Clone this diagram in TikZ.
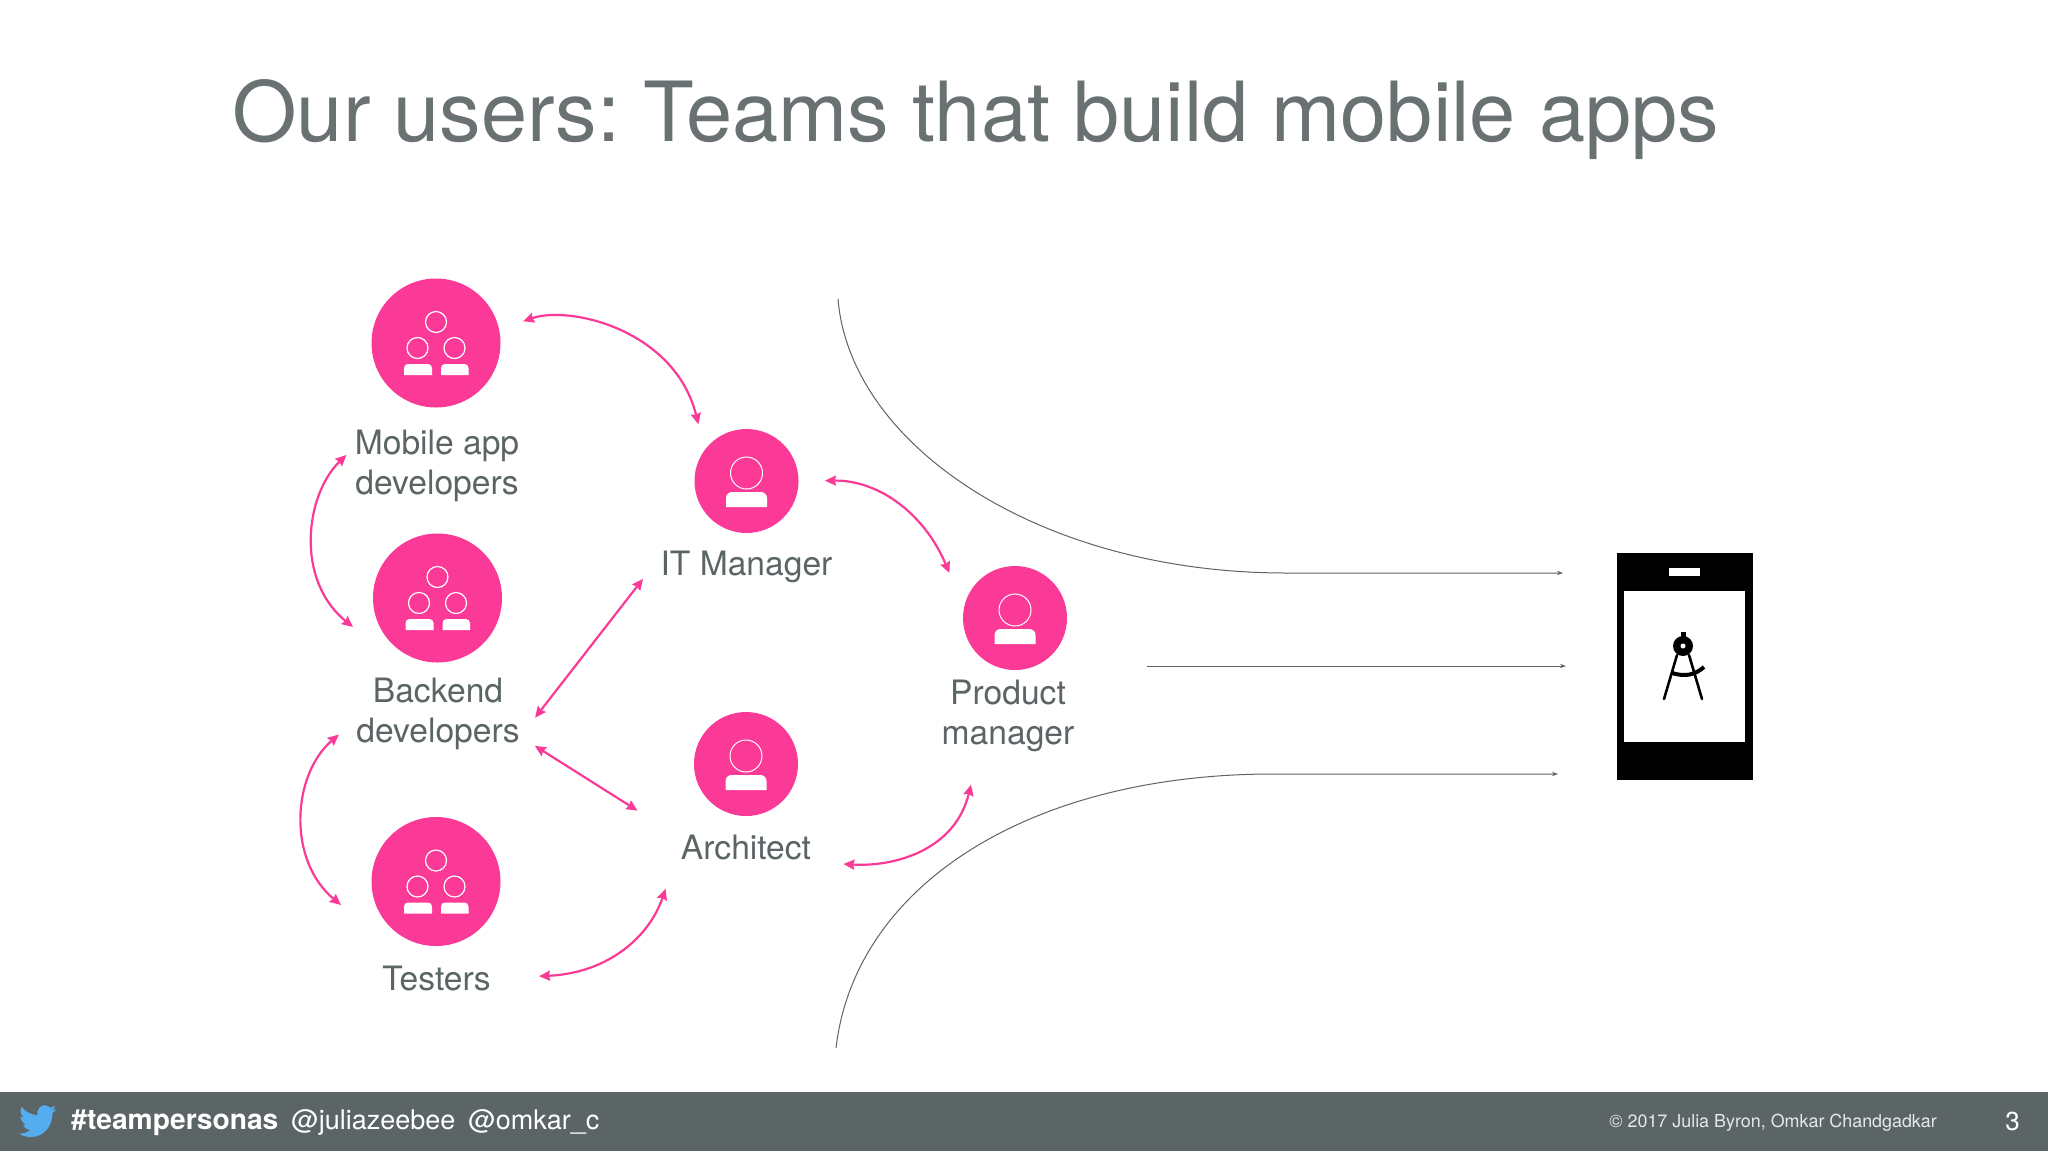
\documentclass[tikz,border=0pt]{standalone}
\usepackage{fontspec}
\setmainfont{TeX Gyre Heros}
\frenchspacing
\usetikzlibrary{arrows.meta}
\definecolor{rolepink}{HTML}{FB3A97}
\definecolor{slategrey}{HTML}{5C6566}
\definecolor{birdblue}{HTML}{55ACEE}
\tikzset{
    rolecircle/.style={circle, fill=rolepink, minimum size=64.5pt, inner sep=0pt},
    smallcircle/.style={circle, fill=rolepink, minimum size=52pt, inner sep=0pt},
    rolelabel/.style={text=slategrey, font=\fontsize{16.8}{20}\selectfont, align=center, inner sep=4pt},
    link/.style={rolepink, line width=1.1pt, {Stealth[length=5.5pt,width=5pt,inset=0.6pt]}-{Stealth[length=5.5pt,width=5pt,inset=0.6pt]}},
    flow/.style={slategrey, line width=0.5pt, -{Stealth[length=3pt,width=2.2pt]}},
    foottext/.style={anchor=base west, inner sep=0pt, text=white, font=\fontsize{13.5}{16}\selectfont}
}
\begin{document}
\begin{tikzpicture}[x=0.5pt, y=-0.5pt]
    \useasboundingbox (0,0) rectangle (2048,1152);
    \fill[white] (0,0) rectangle (2048,1152);

    % Title
    \node[anchor=base west, inner sep=0pt, text=slategrey!92!white, font=\fontsize{41.5}{48}\selectfont] (title) at (232,141) {Our users: Teams that build mobile apps};

    % Role circles and their names
    \node[rolecircle] (mobile) at (436,343) {};
    \node[rolecircle] (backend) at (437.5,598) {};
    \node[rolecircle] (testers) at (436,881.5) {};
    \node[smallcircle] (itmgr) at (746.5,481) {};
    \node[smallcircle] (product) at (1015,618) {};
    \node[smallcircle] (architect) at (746,764) {};

    \node[rolelabel] (mobilelbl) at (437,466) {Mobile app\\developers};
    \node[rolelabel] (backendlbl) at (438,714) {Backend\\developers};
    \node[rolelabel] (testerslbl) at (436.5,978) {Testers};
    \node[rolelabel] (itmgrlbl) at (746.5,567) {IT Manager};
    \node[rolelabel] (productlbl) at (1008,716) {Product\\manager};
    \node[rolelabel] (architectlbl) at (746,847) {Architect};

    % Icons in the circles
    \foreach \role in {mobile,backend,testers} {
        \begin{scope}[shift={(\role)}]
            \draw[white, line width=0.6pt] (0,-21) circle[radius=10.5];
            \draw[white, line width=0.6pt] (-18.5,5) circle[radius=10.5];
            \draw[white, line width=0.6pt] (18.5,5) circle[radius=10.5];
            \fill[white] (-32,32) [rounded corners=2pt] -- (-32,21) -- (-4,21) [sharp corners] -- (-4,32) -- cycle;
            \fill[white] (5,32) [rounded corners=2pt] -- (5,21) -- (32.5,21) [sharp corners] -- (32.5,32) -- cycle;
        \end{scope}
    }
    \foreach \role in {itmgr,product,architect} {
        \begin{scope}[shift={(\role)}]
            \draw[white, line width=0.5pt] (0,-8) circle[radius=16];
            \fill[white] (-20.5,26) [rounded corners=3pt] -- (-20.5,11) -- (20.5,11) [sharp corners] -- (20.5,26) -- cycle;
        \end{scope}
    }

    % Pink links between the roles
    \coordinate (backendtip) at (353,627);
    \coordinate (testerstip) at (341,905);
    \draw[link, shorten <=12.5pt, shorten >=13pt] (mobile.12) .. controls (570,305) and (675,330) .. (itmgr.143);
    \draw[link] (mobilelbl.173) .. controls (305,495) and (295,580) .. (backendtip);
    \draw[link, shorten <=13pt, shorten >=18.5pt] (itmgr.0) .. controls (880,480) and (925,515) .. (product.168);
    \draw[link, shorten <=5.7pt, shorten >=7.5pt] (backendlbl.-8) -- (itmgrlbl.west);
    \draw[link, shorten <=4pt, shorten >=20.7pt] (backendlbl.-17) -- (architectlbl.169);
    \draw[link, shorten <=6pt] (backendlbl.188) .. controls (292,775) and (287,860) .. (testerstip);
    \draw[link, shorten <=20pt, shorten >=11pt] (testerslbl.east) .. controls (610,973) and (650,935) .. (architectlbl.south west);
    \draw[link, shorten <=12pt, shorten >=12.5pt] (architectlbl.-12) .. controls (895,867) and (955,850) .. (productlbl.235);

    % Grey lines into the phone
    \coordinate (flowtop) at (838,299);
    \coordinate (flowtopend) at (1563,573);
    \coordinate (flowmid) at (1147,666);
    \coordinate (flowmidend) at (1566,666);
    \coordinate (flowlow) at (836,1048);
    \coordinate (flowlowend) at (1558,774);
    \draw[flow] (flowtop) .. controls (850,445) and (1039,573) .. (1286,573) -- (flowtopend);
    \draw[flow] (flowmid) -- (flowmidend);
    \draw[flow] (flowlow) .. controls (855,885) and (1030,774) .. (1273,774) -- (flowlowend);

    % Phone with the compass on its screen
    \fill[black] (1617,553) rectangle (1753,780);
    \fill[white] (1624,591) rectangle (1745,742);
    \fill[white] (1669,568) rectangle (1700,576);
    \draw[black, line width=1.3pt, line cap=round] (1677,655) -- (1664,699);
    \draw[black, line width=1.3pt, line cap=round] (1689,655) -- (1702,699);
    \draw[black, line width=2pt] (1672,673) .. controls (1685,677) and (1695,675) .. (1704,667);
    \fill[black] (1680.5,632) rectangle (1685.5,640);
    \fill[black] (1683,646) circle[radius=10];
    \fill[white] (1683,646) circle[radius=2.5];

    % Footer
    \fill[slategrey] (0,1092) rectangle (2048,1150.5);
    \begin{scope}[shift={(19,1101.6)}, x=0.775pt, y=-0.815pt]
        \fill[birdblue] (23.95,4.57) .. controls (23.1,4.95) and (22.1,5.2) .. (21.13,5.35)
            .. controls (22.15,4.75) and (22.9,3.8) .. (23.29,2.62)
            .. controls (22.34,3.18) and (21.29,3.58) .. (20.16,3.8)
            .. controls (18.3,1.8) and (15.2,1.7) .. (13.3,3.6)
            .. controls (12,4.9) and (11.45,6.6) .. (11.78,8.28)
            .. controls (7.69,8.095) and (4.067,6.13) .. (1.64,3.162)
            .. controls (1.2,3.9) and (0.974,4.75) .. (0.974,5.637)
            .. controls (0.974,7.347) and (1.844,8.85) .. (3.162,9.733)
            .. controls (2.35,9.7) and (1.6,9.5) .. (0.934,9.117)
            .. controls (0.934,11.5) and (2.6,13.55) .. (4.88,14)
            .. controls (4.15,14.2) and (3.4,14.2) .. (2.668,14.09)
            .. controls (3.3,16.1) and (5.15,17.45) .. (7.272,17.5)
            .. controls (5.6,18.8) and (3.5,19.61) .. (1.17,19.61)
            .. controls (0.78,19.61) and (0.39,19.59) .. (0,19.54)
            .. controls (2.2,21) and (4.8,21.75) .. (7.557,21.75)
            .. controls (16.61,21.75) and (21.555,14.25) .. (21.555,7.76)
            .. controls (21.555,7.55) and (21.555,7.34) .. (21.54,7.13)
            .. controls (22.5,6.43) and (23.33,5.58) .. (23.95,4.57) -- cycle;
    \end{scope}
    \node[foottext, font=\bfseries\fontsize{14.1}{16}\selectfont] (hashtag) at (71,1129) {\#teampersonas};
    \node[foottext] (handleone) at (291,1129) {@juliazeebee};
    \node[foottext] (handletwo) at (468,1129) {@omkar\_c};
    \node[foottext, text=white!85!slategrey, font=\fontsize{8.95}{12}\selectfont] (copyright) at (1609,1127) {© 2017 Julia Byron, Omkar Chandgadkar};
    \node[foottext, font=\fontsize{13}{16}\selectfont] (pagenum) at (2005,1130) {3};
\end{tikzpicture}
\end{document}
